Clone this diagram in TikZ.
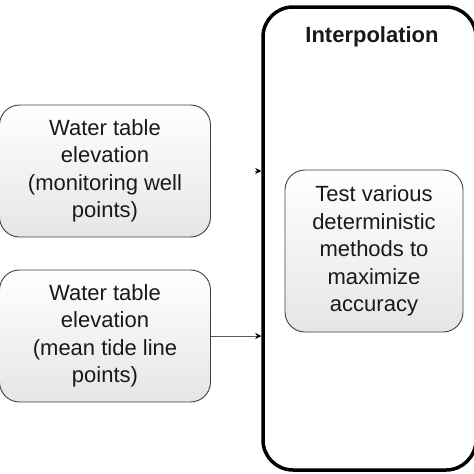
\documentclass[tikz,border=0pt]{standalone}
\usepackage{fontspec}
\setmainfont{Liberation Sans}
\usetikzlibrary{arrows.meta}
\begin{document}
\begin{tikzpicture}[x=1pt,y=-1pt,
  txt/.style={font=\fontsize{22}{27.5}\selectfont, align=center, text=black!90},
  databox/.style={txt, draw=black!75, line width=0.9pt, rounded corners=20pt,
    top color=white, bottom color=black!10, inner sep=0pt},
  frame/.style={draw=black, line width=3.5pt, rounded corners=30pt, inner sep=0pt},
  conn/.style={draw=black!65, line width=0.8pt, -{Stealth[length=6pt,width=6pt,black]}}]
\clip (0,0) rectangle (474,474);
\node[frame, minimum width=213pt, minimum height=463pt] (big) at (369.5,238.5) {};
\node[txt, font=\fontsize{22}{27.5}\selectfont\bfseries] (title) at (372,37) {Interpolation};
\node[databox, minimum width=178pt, minimum height=162pt] (test) at (374,251)
  {Test various\\deterministic\\methods to\\maximize\\accuracy};
\node[databox, minimum width=211pt, minimum height=132pt] (wt1) at (105,171)
  {Water table\\elevation\\(monitoring well\\points)};
\node[databox, minimum width=211pt, minimum height=132pt] (wt2) at (105,336)
  {Water table\\elevation\\(mean tide line\\points)};
\coordinate (stub) at (255,171);
\draw[conn] (stub) -- (stub -| big.west);
\draw[conn] (wt2.east) -- (wt2.east -| big.west);
\end{tikzpicture}
\end{document}
